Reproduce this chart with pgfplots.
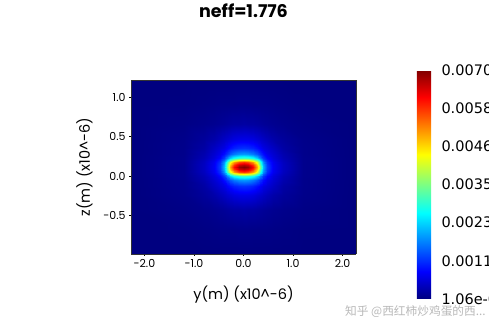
\documentclass[border=0pt]{standalone}
\usepackage{fontspec}
\setmainfont{Poppins}
\newfontfamily\barfont{DejaVu Sans}
\newfontfamily\cjk{Noto Sans CJK SC}
\usepackage{pgfplots}
\pgfplotsset{compat=1.18}
\begin{document}
\begin{tikzpicture}[x=1pt,y=1pt]
\path[use as bounding box] (0,0) rectangle (489,334);
% field values in units of 10^-3
\begin{axis}[
at={(131pt,80pt)},anchor=south west,
scale only axis,width=225pt,height=174pt,
view={0}{90},
xmin=-2.27,xmax=2.27,ymin=-0.99,ymax=1.22,
xtick={-2,-1,0,1,2},ytick={-0.5,0,0.5,1},
xticklabels={\mbox{-2.0},\mbox{-1.0},\mbox{0.0},\mbox{1.0},\mbox{2.0}},
yticklabels={\mbox{-0.5},\mbox{0.0},\mbox{0.5},\mbox{1.0}},
tick align=outside,tick pos=left,
major tick length=2pt,
tick label style={font=\fontsize{11}{12}\selectfont},
xtick style={black,line width=0.6pt},ytick style={black,line width=0.6pt},
axis line style={black!80,line width=0.6pt},
axis on top,
xlabel={y(m) (x10\^{}-6)},ylabel={z(m) (x10\^{}-6)},
label style={font=\fontsize{14.5}{16}\selectfont},
xlabel style={at={(axis description cs:0.5,-0.235)},anchor=center},
ylabel style={at={(axis description cs:-0.207,0.5)},anchor=center,rotate=0},
title={\textbf{neff=1.776}},
title style={at={(axis description cs:0.5,1.365)},anchor=center,font=\fontsize{17.5}{20}\selectfont},
colormap={fld}{rgb(0)=(0,0,0.5);rgb(0.12)=(0,0,1);rgb(0.375)=(0,1,1);rgb(0.63)=(1,1,0);rgb(0.88)=(1,0,0);rgb(1)=(0.5,0,0)},
point meta min=0.0106,point meta max=7.0,
colorbar,
colorbar style={
  at={(1.271,-0.2586)},anchor=south west,
  scale only axis,width=21pt,height=229pt,
  ytick={0.0106,1.17,2.34,3.50,4.67,5.83,7.0},
  yticklabels={1.06e-05,0.0011,0.0023,0.0035,0.0046,0.0058,0.0070},
  major tick length=0pt,
  axis line style={draw=none},
  ylabel={},
  tick label style={font=\barfont\fontsize{14.5}{16}\selectfont},
  yticklabel style={xshift=0pt},
},
]
\addplot3[surf,shader=interp,mesh/cols=21] coordinates {
(-2.27,-.985,.011)(-1.2,-.985,.013)(-.8,-.985,.014)(-.6,-.985,.015)(-.48,-.985,.015)(-.4,-.985,.016)(-.34,-.985,.016)(-.28,-.985,.016)(-.2,-.985,.017)(-.1,-.985,.017)(0,-.985,.017)(.1,-.985,.017)(.2,-.985,.017)(.28,-.985,.016)(.34,-.985,.016)(.4,-.985,.016)(.48,-.985,.015)(.6,-.985,.015)(.8,-.985,.014)(1.2,-.985,.013)(2.27,-.985,.011)

(-2.27,-.685,.011)(-1.2,-.685,.02)(-.8,-.685,.04)(-.6,-.685,.05)(-.48,-.685,.06)(-.4,-.685,.06)(-.34,-.685,.06)(-.28,-.685,.06)(-.2,-.685,.06)(-.1,-.685,.07)(0,-.685,.07)(.1,-.685,.07)(.2,-.685,.06)(.28,-.685,.06)(.34,-.685,.06)(.4,-.685,.06)(.48,-.685,.06)(.6,-.685,.05)(.8,-.685,.04)(1.2,-.685,.02)(2.27,-.685,.011)

(-2.27,-.435,.011)(-1.2,-.435,.05)(-.8,-.435,.09)(-.6,-.435,.12)(-.48,-.435,.15)(-.4,-.435,.17)(-.34,-.435,.19)(-.28,-.435,.21)(-.2,-.435,.23)(-.1,-.435,.23)(0,-.435,.25)(.1,-.435,.23)(.2,-.435,.23)(.28,-.435,.21)(.34,-.435,.19)(.4,-.435,.17)(.48,-.435,.15)(.6,-.435,.12)(.8,-.435,.09)(1.2,-.435,.05)(2.27,-.435,.011)

(-2.27,-.235,.012)(-1.2,-.235,.08)(-.8,-.235,.19)(-.6,-.235,.29)(-.48,-.235,.39)(-.4,-.235,.46)(-.34,-.235,.52)(-.28,-.235,.57)(-.2,-.235,.64)(-.1,-.235,.68)(0,-.235,.69)(.1,-.235,.68)(.2,-.235,.64)(.28,-.235,.57)(.34,-.235,.52)(.4,-.235,.46)(.48,-.235,.39)(.6,-.235,.29)(.8,-.235,.19)(1.2,-.235,.08)(2.27,-.235,.012)

(-2.27,-.125,.012)(-1.2,-.125,.09)(-.8,-.125,.25)(-.6,-.125,.45)(-.48,-.125,.58)(-.4,-.125,.67)(-.34,-.125,.81)(-.28,-.125,.94)(-.2,-.125,1.07)(-.1,-.125,1.15)(0,-.125,1.18)(.1,-.125,1.15)(.2,-.125,1.07)(.28,-.125,.94)(.34,-.125,.81)(.4,-.125,.67)(.48,-.125,.58)(.6,-.125,.45)(.8,-.125,.25)(1.2,-.125,.09)(2.27,-.125,.012)

(-2.27,-.055,.013)(-1.2,-.055,.09)(-.8,-.055,.32)(-.6,-.055,.55)(-.48,-.055,.72)(-.4,-.055,.94)(-.34,-.055,1.19)(-.28,-.055,1.46)(-.2,-.055,1.70)(-.1,-.055,1.87)(0,-.055,1.92)(.1,-.055,1.87)(.2,-.055,1.70)(.28,-.055,1.46)(.34,-.055,1.19)(.4,-.055,.94)(.48,-.055,.72)(.6,-.055,.55)(.8,-.055,.32)(1.2,-.055,.09)(2.27,-.055,.013)

(-2.27,-.005,.013)(-1.2,-.005,.10)(-.8,-.005,.36)(-.6,-.005,.62)(-.48,-.005,.88)(-.4,-.005,1.24)(-.34,-.005,1.75)(-.28,-.005,2.28)(-.2,-.005,2.73)(-.1,-.005,2.98)(0,-.005,3.06)(.1,-.005,2.98)(.2,-.005,2.73)(.28,-.005,2.28)(.34,-.005,1.75)(.4,-.005,1.24)(.48,-.005,.88)(.6,-.005,.62)(.8,-.005,.36)(1.2,-.005,.10)(2.27,-.005,.013)

(-2.27,.025,.013)(-1.2,.025,.10)(-.8,.025,.40)(-.6,.025,.68)(-.48,.025,1.04)(-.4,.025,1.55)(-.34,.025,2.37)(-.28,.025,3.22)(-.2,.025,3.89)(-.1,.025,4.32)(0,.025,4.43)(.1,.025,4.32)(.2,.025,3.89)(.28,.025,3.22)(.34,.025,2.37)(.4,.025,1.55)(.48,.025,1.04)(.6,.025,.68)(.8,.025,.40)(1.2,.025,.10)(2.27,.025,.013)

(-2.27,.055,.013)(-1.2,.055,.10)(-.8,.055,.43)(-.6,.055,.75)(-.48,.055,1.17)(-.4,.055,1.88)(-.34,.055,2.99)(-.28,.055,4.18)(-.2,.055,5.09)(-.1,.055,5.63)(0,.055,5.82)(.1,.055,5.63)(.2,.055,5.09)(.28,.055,4.18)(.34,.055,2.99)(.4,.055,1.88)(.48,.055,1.17)(.6,.055,.75)(.8,.055,.43)(1.2,.055,.10)(2.27,.055,.013)

(-2.27,.085,.013)(-1.2,.085,.10)(-.8,.085,.45)(-.6,.085,.78)(-.48,.085,1.27)(-.4,.085,2.07)(-.34,.085,3.35)(-.28,.085,4.77)(-.2,.085,5.84)(-.1,.085,6.50)(0,.085,6.67)(.1,.085,6.50)(.2,.085,5.84)(.28,.085,4.77)(.34,.085,3.35)(.4,.085,2.07)(.48,.085,1.27)(.6,.085,.78)(.8,.085,.45)(1.2,.085,.10)(2.27,.085,.013)

(-2.27,.115,.013)(-1.2,.115,.10)(-.8,.115,.45)(-.6,.115,.79)(-.48,.115,1.30)(-.4,.115,2.14)(-.34,.115,3.54)(-.28,.115,5.00)(-.2,.115,6.13)(-.1,.115,6.83)(0,.115,7.00)(.1,.115,6.83)(.2,.115,6.13)(.28,.115,5.00)(.34,.115,3.54)(.4,.115,2.14)(.48,.115,1.30)(.6,.115,.79)(.8,.115,.45)(1.2,.115,.10)(2.27,.115,.013)

(-2.27,.145,.013)(-1.2,.145,.10)(-.8,.145,.45)(-.6,.145,.78)(-.48,.145,1.27)(-.4,.145,2.07)(-.34,.145,3.35)(-.28,.145,4.77)(-.2,.145,5.84)(-.1,.145,6.50)(0,.145,6.67)(.1,.145,6.50)(.2,.145,5.84)(.28,.145,4.77)(.34,.145,3.35)(.4,.145,2.07)(.48,.145,1.27)(.6,.145,.78)(.8,.145,.45)(1.2,.145,.10)(2.27,.145,.013)

(-2.27,.175,.013)(-1.2,.175,.10)(-.8,.175,.43)(-.6,.175,.75)(-.48,.175,1.17)(-.4,.175,1.88)(-.34,.175,2.99)(-.28,.175,4.18)(-.2,.175,5.09)(-.1,.175,5.63)(0,.175,5.82)(.1,.175,5.63)(.2,.175,5.09)(.28,.175,4.18)(.34,.175,2.99)(.4,.175,1.88)(.48,.175,1.17)(.6,.175,.75)(.8,.175,.43)(1.2,.175,.10)(2.27,.175,.013)

(-2.27,.205,.013)(-1.2,.205,.10)(-.8,.205,.40)(-.6,.205,.68)(-.48,.205,1.04)(-.4,.205,1.55)(-.34,.205,2.37)(-.28,.205,3.22)(-.2,.205,3.89)(-.1,.205,4.32)(0,.205,4.43)(.1,.205,4.32)(.2,.205,3.89)(.28,.205,3.22)(.34,.205,2.37)(.4,.205,1.55)(.48,.205,1.04)(.6,.205,.68)(.8,.205,.40)(1.2,.205,.10)(2.27,.205,.013)

(-2.27,.235,.013)(-1.2,.235,.10)(-.8,.235,.36)(-.6,.235,.62)(-.48,.235,.88)(-.4,.235,1.24)(-.34,.235,1.75)(-.28,.235,2.28)(-.2,.235,2.73)(-.1,.235,2.98)(0,.235,3.06)(.1,.235,2.98)(.2,.235,2.73)(.28,.235,2.28)(.34,.235,1.75)(.4,.235,1.24)(.48,.235,.88)(.6,.235,.62)(.8,.235,.36)(1.2,.235,.10)(2.27,.235,.013)

(-2.27,.285,.013)(-1.2,.285,.09)(-.8,.285,.32)(-.6,.285,.55)(-.48,.285,.72)(-.4,.285,.94)(-.34,.285,1.19)(-.28,.285,1.46)(-.2,.285,1.70)(-.1,.285,1.87)(0,.285,1.92)(.1,.285,1.87)(.2,.285,1.70)(.28,.285,1.46)(.34,.285,1.19)(.4,.285,.94)(.48,.285,.72)(.6,.285,.55)(.8,.285,.32)(1.2,.285,.09)(2.27,.285,.013)

(-2.27,.355,.012)(-1.2,.355,.09)(-.8,.355,.25)(-.6,.355,.45)(-.48,.355,.58)(-.4,.355,.67)(-.34,.355,.81)(-.28,.355,.94)(-.2,.355,1.07)(-.1,.355,1.15)(0,.355,1.18)(.1,.355,1.15)(.2,.355,1.07)(.28,.355,.94)(.34,.355,.81)(.4,.355,.67)(.48,.355,.58)(.6,.355,.45)(.8,.355,.25)(1.2,.355,.09)(2.27,.355,.012)

(-2.27,.465,.012)(-1.2,.465,.08)(-.8,.465,.19)(-.6,.465,.29)(-.48,.465,.39)(-.4,.465,.46)(-.34,.465,.52)(-.28,.465,.57)(-.2,.465,.64)(-.1,.465,.68)(0,.465,.69)(.1,.465,.68)(.2,.465,.64)(.28,.465,.57)(.34,.465,.52)(.4,.465,.46)(.48,.465,.39)(.6,.465,.29)(.8,.465,.19)(1.2,.465,.08)(2.27,.465,.012)

(-2.27,.665,.011)(-1.2,.665,.05)(-.8,.665,.09)(-.6,.665,.12)(-.48,.665,.15)(-.4,.665,.17)(-.34,.665,.19)(-.28,.665,.21)(-.2,.665,.23)(-.1,.665,.23)(0,.665,.25)(.1,.665,.23)(.2,.665,.23)(.28,.665,.21)(.34,.665,.19)(.4,.665,.17)(.48,.665,.15)(.6,.665,.12)(.8,.665,.09)(1.2,.665,.05)(2.27,.665,.011)

(-2.27,.915,.011)(-1.2,.915,.02)(-.8,.915,.04)(-.6,.915,.05)(-.48,.915,.06)(-.4,.915,.06)(-.34,.915,.06)(-.28,.915,.06)(-.2,.915,.06)(-.1,.915,.07)(0,.915,.07)(.1,.915,.07)(.2,.915,.06)(.28,.915,.06)(.34,.915,.06)(.4,.915,.06)(.48,.915,.06)(.6,.915,.05)(.8,.915,.04)(1.2,.915,.02)(2.27,.915,.011)

(-2.27,1.22,.011)(-1.2,1.22,.013)(-.8,1.22,.014)(-.6,1.22,.015)(-.48,1.22,.015)(-.4,1.22,.016)(-.34,1.22,.016)(-.28,1.22,.016)(-.2,1.22,.017)(-.1,1.22,.017)(0,1.22,.017)(.1,1.22,.017)(.2,1.22,.017)(.28,1.22,.016)(.34,1.22,.016)(.4,1.22,.016)(.48,1.22,.015)(.6,1.22,.015)(.8,1.22,.014)(1.2,1.22,.013)(2.27,1.22,.011)
};
\end{axis}
\node[anchor=west,text=black!28,font=\cjk\fontsize{11.7}{14}\selectfont,inner sep=0pt] at (345,22.5) {知乎 @西红柿炒鸡蛋的西...};
\end{tikzpicture}
\end{document}
